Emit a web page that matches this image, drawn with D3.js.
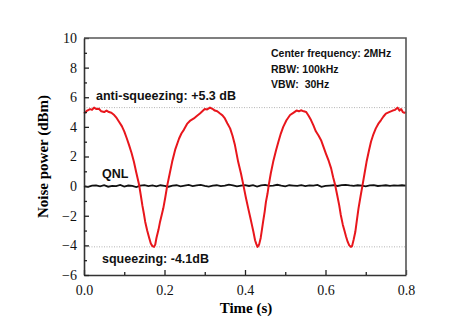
<!DOCTYPE html>
<html>
<head>
<meta charset="utf-8">
<script src="https://cdn.jsdelivr.net/npm/d3@7"></script>
<style>
  body { margin: 0; background: #fff; }
  .tick text { font-family: "Liberation Serif", "Times New Roman", serif; font-size: 14px; fill: #111; }
  .note { font-family: "Liberation Sans", Arial, sans-serif; font-weight: bold; fill: #111; white-space: pre; }
</style>
</head>
<body>
<div id="vis"></div>
<script>
// traced noise power of the squeezed beam (red) vs time
let redTime = [0.000, 0.008, 0.015, 0.020, 0.025, 0.031, 0.037, 0.043, 0.050, 0.056, 0.062, 0.068, 0.075, 0.081, 0.087,
  0.094, 0.100, 0.106, 0.112, 0.118, 0.124, 0.130, 0.137, 0.141, 0.145, 0.149, 0.152, 0.157, 0.162, 0.166, 0.170,
  0.174, 0.177, 0.180, 0.185, 0.189, 0.193, 0.197, 0.202, 0.207, 0.213, 0.219, 0.227, 0.236, 0.242, 0.248, 0.256,
  0.263, 0.273, 0.281, 0.288, 0.294, 0.300, 0.306, 0.313, 0.319, 0.325, 0.331, 0.338, 0.344, 0.350, 0.356, 0.363,
  0.369, 0.375, 0.383, 0.390, 0.396, 0.402, 0.408, 0.413, 0.417, 0.421, 0.425, 0.428, 0.431, 0.435, 0.439, 0.442,
  0.445, 0.449, 0.452, 0.456, 0.459, 0.464, 0.470, 0.477, 0.483, 0.489, 0.495, 0.503, 0.512, 0.520, 0.528, 0.534,
  0.539, 0.546, 0.552, 0.558, 0.564, 0.570, 0.576, 0.583, 0.589, 0.595, 0.601, 0.608, 0.614, 0.619, 0.624, 0.629,
  0.634, 0.638, 0.643, 0.647, 0.651, 0.655, 0.659, 0.663, 0.666, 0.670, 0.674, 0.678, 0.682, 0.687, 0.692, 0.697,
  0.702, 0.708, 0.713, 0.719, 0.725, 0.731, 0.738, 0.744, 0.750, 0.758, 0.767, 0.773, 0.779, 0.784, 0.788, 0.792,
  0.796, 0.800];
let redPower = [4.90, 5.10, 5.20, 5.15, 5.30, 5.20, 5.22, 5.05, 5.00, 5.10, 5.00, 4.95, 4.80, 4.60, 4.35,
  4.05, 3.70, 3.25, 2.77, 2.25, 1.64, 0.90, 0.07, -0.60, -1.30, -1.90, -2.40, -3.00, -3.50, -3.87, -4.05,
  -4.10, -3.95, -3.50, -2.95, -2.40, -1.95, -1.50, -0.75, 0.07, 0.85, 1.64, 2.50, 3.20, 3.55, 3.80, 4.20,
  4.40, 4.57, 4.75, 4.90, 5.05, 5.20, 5.18, 5.30, 5.22, 5.10, 5.05, 4.90, 4.78, 4.57, 4.25, 3.90,
  3.40, 2.77, 1.64, 0.85, 0.07, -0.75, -1.50, -2.10, -2.60, -3.10, -3.65, -3.90, -4.10, -3.95, -3.50, -2.95,
  -2.40, -1.70, -1.06, -0.50, 0.07, 0.85, 1.64, 2.40, 3.00, 3.55, 4.00, 4.45, 4.80, 4.95, 5.10, 5.05,
  5.12, 5.05, 5.00, 4.75, 4.46, 4.10, 3.70, 3.40, 3.10, 2.65, 2.20, 1.70, 1.20, 0.60, 0.07, -0.60,
  -1.28, -1.95, -2.60, -3.00, -3.40, -3.75, -4.00, -4.10, -4.05, -3.60, -3.10, -2.30, -1.50, -0.70, 0.07, 0.85,
  1.64, 2.40, 3.00, 3.50, 3.90, 4.20, 4.46, 4.70, 4.90, 5.00, 5.10, 5.15, 5.30, 5.10, 5.20, 5.00,
  4.95, 5.00];

// quantum noise limit (black), sampled every 0.01 s
let qnlStep = 0.01;
let qnlPower = [0.00, -0.05, 0.03, 0.05, -0.02, 0.06, -0.04, 0.02, 0.00, 0.08, -0.03, 0.04, 0.01, -0.06, 0.03,
  0.07, 0.00, 0.05, -0.02, 0.06, 0.02, -0.04, 0.03, 0.06, -0.01, 0.04, 0.08, 0.00, 0.05, 0.09, 0.02,
  -0.03, 0.04, 0.06, 0.00, 0.03, 0.10, 0.05, -0.02, 0.04, 0.07, 0.01, 0.06, -0.03, 0.05, 0.08, 0.02,
  0.04, 0.09, 0.03, -0.01, 0.06, 0.04, 0.02, 0.07, 0.00, 0.05, 0.03, 0.08, -0.05, 0.02, 0.04, 0.06,
  0.01, 0.07, 0.09, 0.05, 0.02, 0.06, 0.03, -0.02, 0.05, 0.07, 0.01, 0.04, 0.06, 0.02, 0.05, 0.03,
  0.06, 0.04];

let xTicks = [0.0, 0.2, 0.4, 0.6, 0.8];
let yTicks = [-6, -4, -2, 0, 2, 4, 6, 8, 10];
let antiLevel = 5.3, squeezeLevel = -4.1;
let settings = ["Center frequency: 2MHz", "RBW: 100kHz", "VBW:  30Hz"];

let margin = { top: 38, left: 84, right: 68, bottom: 57 },
  width = 474 - margin.left - margin.right,
  height = 332 - margin.top - margin.bottom;

let svg = d3.select('#vis')
  .append('svg')
  .attr('width', 474)
  .attr('height', 332);

let g = svg.append('g').attr('transform', `translate(${margin.left},${margin.top})`);

let x = d3.scaleLinear().domain([0, 0.8]).range([0, width]);
let y = d3.scaleLinear().domain([-6, 10]).range([height, 0]);

// reference levels
g.selectAll('.level')
  .data([antiLevel, squeezeLevel])
  .enter().append('line')
  .attr('x1', 0).attr('x2', width)
  .attr('y1', d => y(d)).attr('y2', d => y(d))
  .attr('stroke', '#a0a0a0')
  .attr('stroke-width', 0.8)
  .attr('stroke-dasharray', '1,1.5');

let qnl = qnlPower.map((v, i) => [i * qnlStep, v]);
let red = redTime.map((t, i) => [t, redPower[i]]);

let line = d3.line().x(d => x(d[0])).y(d => y(d[1]));

g.append('path').datum(qnl)
  .attr('d', line)
  .attr('fill', 'none')
  .attr('stroke', '#111')
  .attr('stroke-width', 1.8);

g.append('path').datum(red)
  .attr('d', line)
  .attr('fill', 'none')
  .attr('stroke', '#e8161c')
  .attr('stroke-width', 2)
  .attr('stroke-linejoin', 'round');

// axes with inward major + minor ticks
let xAxis = g.append('g').attr('transform', `translate(0,${height})`)
  .call(d3.axisBottom(x).tickValues(xTicks).tickFormat(d3.format('.1f')).tickSizeInner(-5).tickSizeOuter(0).tickPadding(10));
let yAxis = g.append('g')
  .call(d3.axisLeft(y).tickValues(yTicks).tickFormat(d3.format('d')).tickSizeInner(-5).tickSizeOuter(0).tickPadding(7));

g.append('g').attr('transform', `translate(0,${height})`)
  .call(d3.axisBottom(x).tickValues(d3.range(1, 8, 2).map(d => d / 10)).tickFormat('').tickSizeInner(-3).tickSizeOuter(0))
  .select('.domain').remove();
g.append('g')
  .call(d3.axisLeft(y).tickValues(d3.range(-5, 10, 2)).tickFormat('').tickSizeInner(-3).tickSizeOuter(0))
  .select('.domain').remove();

g.selectAll('.tick line').attr('stroke', '#222').attr('stroke-width', 1.3);
xAxis.select('.domain').attr('stroke', '#333').attr('stroke-width', 1.6);
yAxis.select('.domain').attr('stroke', '#333').attr('stroke-width', 1.6);

// top and right frame
g.append('path')
  .attr('d', `M0,0H${width}V${height}`)
  .attr('fill', 'none')
  .attr('stroke', '#555')
  .attr('stroke-width', 1.6);

// axis titles
svg.append('text')
  .attr('x', margin.left + width / 2 + 1).attr('y', 313)
  .attr('text-anchor', 'middle')
  .style('font-family', '"Liberation Serif", "Times New Roman", serif')
  .style('font-weight', 'bold').style('font-size', '15px')
  .text('Time (s)');

svg.append('text')
  .attr('transform', `translate(48,${margin.top + height / 2}) rotate(-90)`)
  .attr('text-anchor', 'middle')
  .style('font-family', '"Liberation Serif", "Times New Roman", serif')
  .style('font-weight', 'bold').style('font-size', '15px')
  .text('Noise power (dBm)');

// annotations
g.append('text').attr('class', 'note')
  .attr('x', 12).attr('y', y(antiLevel) - 8)
  .style('font-size', '12.5px')
  .text('anti-squeezing: +5.3 dB');

g.append('text').attr('class', 'note')
  .attr('x', 18).attr('y', y(0) - 8)
  .style('font-size', '12.5px')
  .text('QNL');

g.append('text').attr('class', 'note')
  .attr('x', 18).attr('y', y(squeezeLevel) + 16)
  .style('font-size', '12.5px')
  .text('squeezing: -4.1dB');

g.selectAll('.setting')
  .data(settings)
  .enter().append('text').attr('class', 'note')
  .attr('x', 187)
  .attr('y', (d, i) => 19 + i * 15.5)
  .style('font-size', '10.5px')
  .text(d => d);
</script>
</body>
</html>
